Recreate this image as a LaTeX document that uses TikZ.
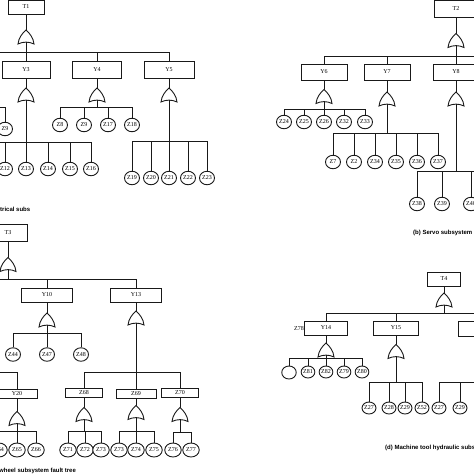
\documentclass[tikz,border=0pt]{standalone}
\usepackage{fontspec}
\setmainfont{Liberation Serif}
\newfontfamily\capfont{Liberation Sans}
\usetikzlibrary{shapes.geometric}
\tikzset{
  ln/.style={draw=black!90, line width=0.9pt},
  box/.style={ln, rectangle, fill=white, inner sep=0pt, font=\fontsize{6}{6}\selectfont},
  bsz/.style 2 args={minimum width=#1pt, minimum height=#2pt},
  ev/.style={ln, ellipse, fill=white, inner sep=0pt, minimum width=15pt, minimum height=13.5pt, font=\fontsize{6}{6}\selectfont},
  evs/.style={ev, minimum width=13.5pt, minimum height=12pt},
  evw/.style={ev, minimum width=16.5pt, minimum height=14pt},
  gatebox/.style={rectangle, inner sep=0pt, outer sep=0pt, minimum width=16pt, minimum height=14pt},
  captxt/.style={font=\capfont\bfseries\fontsize{6}{7}\selectfont, inner sep=0pt, anchor=west},
  lbl/.style={font=\fontsize{6}{6}\selectfont, inner sep=0pt},
  pics/orgate/.style={code={\draw[ln, fill=white] (-8pt,-7pt) .. controls (-7.5pt,-1pt) and (-3.5pt,4pt) .. (0pt,7pt) .. controls (3.5pt,4pt) and (7.5pt,-1pt) .. (8pt,-7pt) .. controls (3pt,-4.5pt) and (-3pt,-4.5pt) .. cycle;}}
}
\newcommand{\ggate}[3]{\node[gatebox] (#1) at (#2,#3) {};}
\begin{document}
\begin{tikzpicture}[x=1pt, y=-1pt]
\useasboundingbox (0,0) rectangle (474,474);
\clip (0,0) rectangle (474,474);
\fill[white] (0,0) rectangle (474,474);

% gate nodes (shapes drawn at the end)
\ggate{gT1}{26}{37}
\ggate{gY3}{26}{95}
\ggate{gY4}{97}{95}
\ggate{gY5}{169}{95}
\ggate{gT2}{456}{40.5}
\ggate{gY6}{324}{96.5}
\ggate{gY7}{387}{99}
\ggate{gY8}{456}{99}
\ggate{gT3}{8}{264.5}
\ggate{gY10}{47}{320}
\ggate{gY13}{136}{318}
\ggate{gY20}{17}{418.5}
\ggate{gZ68}{84}{414.5}
\ggate{gZ69}{136}{412.5}
\ggate{gZ70}{180}{414.5}
\ggate{gT4}{444}{300}
\ggate{gY14}{326}{350}
\ggate{gY15}{396}{351.5}

% ---------------- (a) ----------------
\node[box,bsz={36}{14}] (T1) at (26,7) {T1};
\node[box,bsz={48}{17}] (Y3) at (26,69.5) {Y3};
\node[box,bsz={49}{17}] (Y4) at (97,69.5) {Y4};
\node[box,bsz={50}{17}] (Y5) at (169,69.5) {Y5};
\node[ev] (aZ9w) at (5,129) {Z9};
\node[ev] (a8) at (60,125) {Z8};
\node[ev] (a9) at (84,125) {Z9};
\node[ev] (a17) at (108,125) {Z17};
\node[ev] (a18) at (132,125) {Z18};
\node[ev] (a12) at (5,169) {Z12};
\node[ev] (a13) at (26,169) {Z13};
\node[ev] (a14) at (48,169) {Z14};
\node[ev] (a15) at (70,169) {Z15};
\node[ev] (a16) at (91,169) {Z16};
\node[ev] (a19) at (132,178) {Z19};
\node[ev] (a20) at (151,178) {Z20};
\node[ev] (a21) at (169,178) {Z21};
\node[ev] (a22) at (188,178) {Z22};
\node[ev] (a23) at (207,178) {Z23};
\node[captxt] (capA) at (0,209) {trical subs};

\coordinate (bA) at (0,52);
\coordinate (bW) at (0,107);
\coordinate (b4) at (0,107);
\coordinate (b3) at (0,142);
\coordinate (b5) at (0,141);
\draw[ln] (T1) -- (gT1.north);
\draw[ln] (bA) -- (Y5.north |- bA) -- (Y5.north);
\draw[ln] (Y3.north |- bA) -- (Y3.north);
\draw[ln] (Y4.north |- bA) -- (Y4.north);
\draw[ln] (Y3) -- (gY3.north);
\draw[ln] (Y4) -- (gY4.north);
\draw[ln] (Y5) -- (gY5.north);
\draw[ln] (bW) -| (aZ9w.north);
\draw[ln] (a8.north) -- (a8.north |- b4) -- (a18.north |- b4) -- (a18.north);
\foreach \c in {a9,a17} \draw[ln] (\c.north) -- (\c.north |- b4);
\draw[ln] (b3) -- (a16.north |- b3) -- (a16.north);
\foreach \c in {a12,a13,a14,a15} \draw[ln] (\c.north) -- (\c.north |- b3);
\draw[ln] (a19.north) -- (a19.north |- b5) -- (a23.north |- b5) -- (a23.north);
\foreach \c in {a20,a21,a22} \draw[ln] (\c.north) -- (\c.north |- b5);

% ---------------- (b) ----------------
\node[box,bsz={44}{17}] (T2) at (456,8.5) {T2};
\node[box,bsz={46}{16}] (Y6) at (324,72) {Y6};
\node[box,bsz={46}{16}] (Y7) at (387,72) {Y7};
\node[box,bsz={46}{16}] (Y8) at (456,72) {Y8};
\node[ev] (b24) at (284,122) {Z24};
\node[ev] (b25) at (304,122) {Z25};
\node[ev] (b26) at (324,122) {Z26};
\node[ev] (b32) at (344,122) {Z32};
\node[ev] (b33) at (365,122) {Z33};
\node[ev] (b7) at (333,162) {Z7};
\node[ev] (b2) at (354,162) {Z2};
\node[ev] (b34) at (375,162) {Z34};
\node[ev] (b35) at (396,162) {Z35};
\node[ev] (b36) at (417,162) {Z36};
\node[ev] (b37) at (438,162) {Z37};
\node[ev] (b38) at (417,204) {Z38};
\node[ev] (b39) at (442,204) {Z39};
\node[ev] (b40) at (471,204) {Z40};
\node[captxt] (capB) at (413,233) {(b) Servo subsystem};

\coordinate (bBr) at (474,56);
\coordinate (b6) at (0,109);
\coordinate (b7y) at (0,133);
\coordinate (b8r) at (474,171);
\draw[ln] (T2) -- (gT2.north);
\draw[ln] (Y6.north) -- (Y6.north |- bBr) -- (bBr);
\draw[ln] (Y7.north |- bBr) -- (Y7.north);
\draw[ln] (Y8.north |- bBr) -- (Y8.north);
\draw[ln] (Y6) -- (gY6.north);
\draw[ln] (Y7) -- (gY7.north);
\draw[ln] (Y8) -- (gY8.north);
\draw[ln] (b24.north) -- (b24.north |- b6) -- (b33.north |- b6) -- (b33.north);
\foreach \c in {b25,b26,b32} \draw[ln] (\c.north) -- (\c.north |- b6);
\draw[ln] (b7.north) -- (b7.north |- b7y) -- (b37.north |- b7y) -- (b37.north);
\foreach \c in {b2,b34,b35,b36} \draw[ln] (\c.north) -- (\c.north |- b7y);
\draw[ln] (b38.north) -- (b38.north |- b8r) -- (b8r);
\foreach \c in {b39,b40} \draw[ln] (\c.north) -- (\c.north |- b8r);

% ---------------- (c) ----------------
\node[box,bsz={38}{17}] (T3) at (8,232.5) {T3};
\node[box,bsz={51}{14}] (Y10) at (47,295) {Y10};
\node[box,bsz={51}{14}] (Y13) at (136,295) {Y13};
\node[ev] (c44) at (13,354.5) {Z44};
\node[ev] (c47) at (47,354.5) {Z47};
\node[ev] (c48) at (81,354.5) {Z48};
\node[box,bsz={40}{9}] (Y20) at (17,393.5) {Y20};
\node[box,bsz={37}{9}] (Z68) at (84,392.5) {Z68};
\node[box,bsz={40}{9}] (Z69) at (136,393.5) {Z69};
\node[box,bsz={37}{9}] (Z70) at (180,392.5) {Z70};
\node[evw] (c64) at (-1,450) {Z64};
\node[evw] (c65) at (17,450) {Z65};
\node[evw] (c66) at (36,450) {Z66};
\node[evw] (c71) at (68,450) {Z71};
\node[evw] (c72) at (85,450) {Z72};
\node[evw] (c73) at (101,450) {Z73};
\node[evw] (c73b) at (119,450) {Z73};
\node[evw] (c74) at (136,450) {Z74};
\node[evw] (c75) at (154,450) {Z75};
\node[evw] (c76) at (173,450) {Z76};
\node[evw] (c77) at (191,450) {Z77};
\node[captxt] (capC) at (-1,471) {wheel subsystem fault tree};

\coordinate (cT) at (0,279);
\coordinate (c10) at (0,333);
\coordinate (c13) at (0,372);
\coordinate (cL) at (0,372);
\coordinate (c20) at (0,431);
\coordinate (c68) at (0,431);
\coordinate (c69) at (0,431);
\coordinate (c70) at (0,432);
\draw[ln] (T3) -- (gT3.north);
\draw[ln] (cT) -- (Y13.north |- cT) -- (Y13.north);
\draw[ln] (Y10.north |- cT) -- (Y10.north);
\draw[ln] (Y10) -- (gY10.north);
\draw[ln] (Y13) -- (gY13.north);
\draw[ln] (c44.north) -- (c44.north |- c10) -- (c48.north |- c10) -- (c48.north);
\draw[ln] (c47.north) -- (c47.north |- c10);
\draw[ln] (Z68.north) -- (Z68.north |- c13) -- (Z70.north |- c13) -- (Z70.north);
\draw[ln] (cL) -| (Y20.north);
\draw[ln] (Y20) -- (gY20.north);
\draw[ln] (Z68) -- (gZ68.north);
\draw[ln] (Z69) -- (gZ69.north);
\draw[ln] (Z70) -- (gZ70.north);
\draw[ln] (c20) -- (c66.north |- c20) -- (c66.north);
\foreach \c in {c64,c65} \draw[ln] (\c.north) -- (\c.north |- c20);
\draw[ln] (c71.north) -- (c71.north |- c68) -- (c73.north |- c68) -- (c73.north);
\draw[ln] (c72.north) -- (c72.north |- c68);
\draw[ln] (c73b.north) -- (c73b.north |- c69) -- (c75.north |- c69) -- (c75.north);
\draw[ln] (c74.north) -- (c74.north |- c69);
\draw[ln] (c76.north) -- (c76.north |- c70) -- (c77.north |- c70) -- (c77.north);

% ---------------- (d) ----------------
\node[box,bsz={33}{14}] (T4) at (444,279) {T4};
\node[box,bsz={43}{14}] (Y14) at (326,328) {Y14};
\node[box,bsz={45}{14}] (Y15) at (396,328) {Y15};
\node[box,bsz={46}{15}] (Y16) at (481,328.5) {};
\node[lbl, anchor=east] (z78) at (304,329) {Z78};
\node[ev, minimum width=14.5pt, minimum height=13pt] (d0) at (289,372.5) {};
\node[evs] (d81) at (308,372) {Z81};
\node[evs] (d82) at (326,372) {Z82};
\node[evs] (d79) at (344,372) {Z79};
\node[evs] (d80) at (362,372) {Z80};
\node[evs, minimum width=14pt] (d27) at (369,408) {Z27};
\node[evs, minimum width=14pt] (d28) at (389,408) {Z28};
\node[evs, minimum width=14pt] (d29) at (405,408) {Z29};
\node[evs, minimum width=14pt] (d52) at (422,408) {Z52};
\node[evs, minimum width=14pt] (d27b) at (439,408) {Z27};
\node[evs, minimum width=14pt] (d29b) at (460,408) {Z29};
\node[captxt] (capD) at (385,448) {(d) Machine tool hydraulic subs};

\coordinate (dT) at (474,313);
\coordinate (d14) at (0,358);
\coordinate (d15) at (0,382);
\coordinate (dR) at (474,382);
\draw[ln] (T4) -- (gT4.north);
\draw[ln] (Y14.north) -- (Y14.north |- dT) -- (dT);
\draw[ln] (Y15.north |- dT) -- (Y15.north);
\draw[ln] (Y14) -- (gY14.north);
\draw[ln] (Y15) -- (gY15.north);
\draw[ln] (d0.north) -- (d0.north |- d14) -- (d80.north |- d14) -- (d80.north);
\foreach \c in {d81,d82,d79} \draw[ln] (\c.north) -- (\c.north |- d14);
\draw[ln] (d27.north) -- (d27.north |- d15) -- (d52.north |- d15) -- (d52.north);
\foreach \c in {d28,d29} \draw[ln] (\c.north) -- (\c.north |- d15);
\draw[ln] (d27b.north) -- (d27b.north |- dR) -- (dR);
\draw[ln] (d29b.north) -- (d29b.north |- dR);

% gate shapes
\foreach \g in {gT1,gY3,gY4,gY5,gT2,gY6,gY7,gY8,gT3,gY10,gY13,gY20,gZ68,gZ69,gZ70,gT4,gY14,gY15}
  \pic at (\g) {orgate};

% gate-to-bar connectors (drawn over the gate base)
\draw[ln] ([yshift=2.5pt]gT1.south) -- (gT1.south |- bA);
\draw[ln] ([yshift=2.5pt]gY3.south) -- (gY3.south |- b3);
\draw[ln] ([yshift=2.5pt]gY4.south) -- (gY4.south |- b4);
\draw[ln] ([yshift=2.5pt]gY5.south) -- (gY5.south |- b5);
\draw[ln] ([yshift=2.5pt]gT2.south) -- (gT2.south |- bBr);
\draw[ln] ([yshift=2.5pt]gY6.south) -- (gY6.south |- b6);
\draw[ln] ([yshift=2.5pt]gY7.south) -- (gY7.south |- b7y);
\draw[ln] ([yshift=2.5pt]gY8.south) -- (gY8.south |- b8r);
\draw[ln] ([yshift=2.5pt]gT3.south) -- (gT3.south |- cT);
\draw[ln] ([yshift=2.5pt]gY10.south) -- (gY10.south |- c10);
\draw[ln] ([yshift=2.5pt]gY13.south) -- (Z69.north);
\draw[ln] ([yshift=2.5pt]gY20.south) -- (gY20.south |- c20);
\draw[ln] ([yshift=2.5pt]gZ68.south) -- (gZ68.south |- c68);
\draw[ln] ([yshift=2.5pt]gZ69.south) -- (gZ69.south |- c69);
\draw[ln] ([yshift=2.5pt]gZ70.south) -- (gZ70.south |- c70);
\draw[ln] ([yshift=2.5pt]gT4.south) -- (gT4.south |- dT);
\draw[ln] ([yshift=2.5pt]gY14.south) -- (gY14.south |- d14);
\draw[ln] ([yshift=2.5pt]gY15.south) -- (gY15.south |- d15);
\end{tikzpicture}
\end{document}
